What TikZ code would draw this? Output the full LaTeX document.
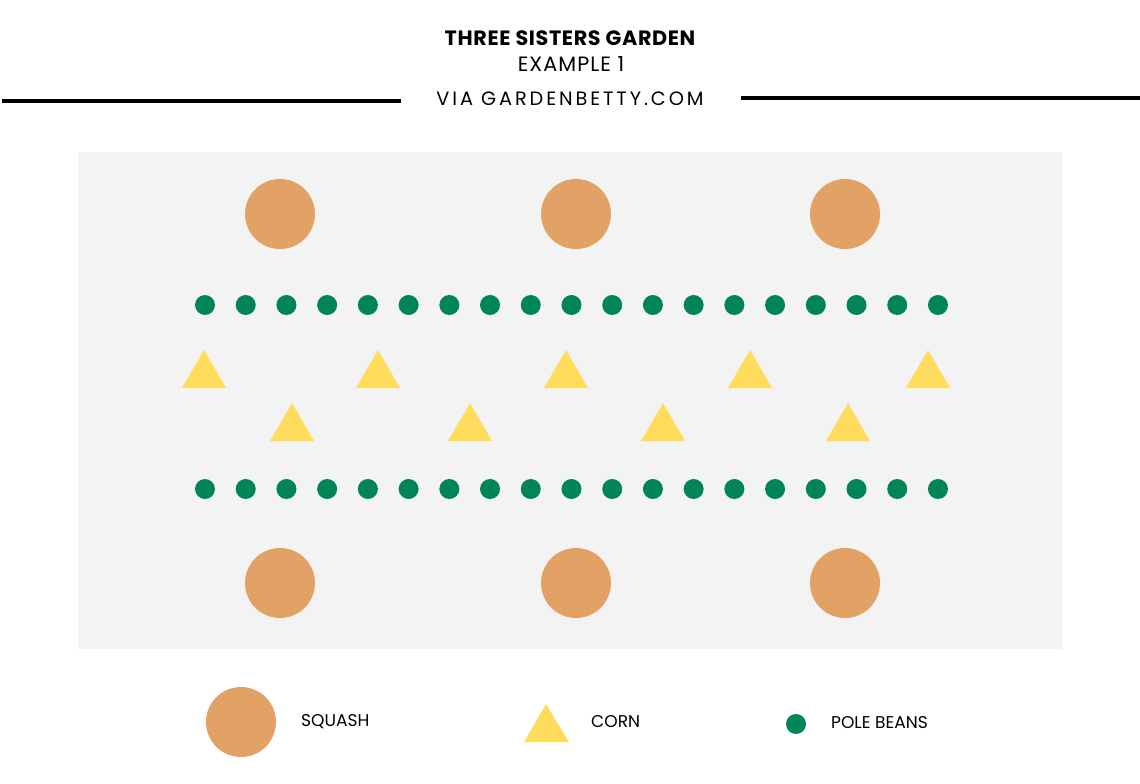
\documentclass[tikz,border=0pt]{standalone}
\usepackage{fontspec}
\setmainfont{Poppins}
\definecolor{squash}{HTML}{E2A265}
\definecolor{corn}{HTML}{FFDC5C}
\definecolor{bean}{HTML}{008556}
\definecolor{bed}{HTML}{F3F3F3}
\tikzset{
  corntri/.style={fill=corn,draw=none},
  legend/.style={anchor=west,font=\fontsize{9.7}{11}\selectfont}
}
\begin{document}
\begin{tikzpicture}[x=0.02cm,y=-0.02cm]
  \useasboundingbox (0,0) rectangle (1140,784);
  % title
  \node (title) at (570,38) {\fontsize{11.8}{13}\selectfont\bfseries\addfontfeature{LetterSpace=3}THREE SISTERS GARDEN};
  \node (sub) at (571,64) {\fontsize{11.8}{13}\selectfont\addfontfeature{LetterSpace=5}EXAMPLE 1};
  \node (via) at (570,99) {\fontsize{11}{13}\selectfont\addfontfeature{LetterSpace=15}VIA GARDENBETTY.COM};
  \draw[line width=2pt] (2,101) -- (401,101);
  \draw[line width=2pt] (741,98) -- (1140,98);
  % garden bed
  \fill[bed] (78,152) rectangle (1062,649);
  % squash
  \foreach \x in {280,576,845} {
    \fill[squash] (\x,214) circle (35);
    \fill[squash] (\x,583) circle (35);
  }
  % pole beans
  \foreach \i in {0,...,18} {
    \fill[bean] (205+\i*40.72,305) circle (10);
    \fill[bean] (205+\i*40.72,489) circle (10);
  }
  % corn
  \foreach \x in {204,378,566,750,928}
    \fill[corntri] (\x-22,388) -- (\x,350) -- (\x+22,388) -- cycle;
  \foreach \x in {292,470,663,848}
    \fill[corntri] (\x-22,441) -- (\x,403) -- (\x+22,441) -- cycle;
  % legend
  \fill[squash] (241,722) circle (35);
  \node[legend] (lsquash) at (295,722) {SQUASH};
  \fill[corntri] (524,742) -- (546,704) -- (569,742) -- cycle;
  \node[legend] (lcorn) at (585,722) {CORN};
  \fill[bean] (796,724) circle (10);
  \node[legend] (lbeans) at (825,723) {POLE BEANS};
\end{tikzpicture}
\end{document}
